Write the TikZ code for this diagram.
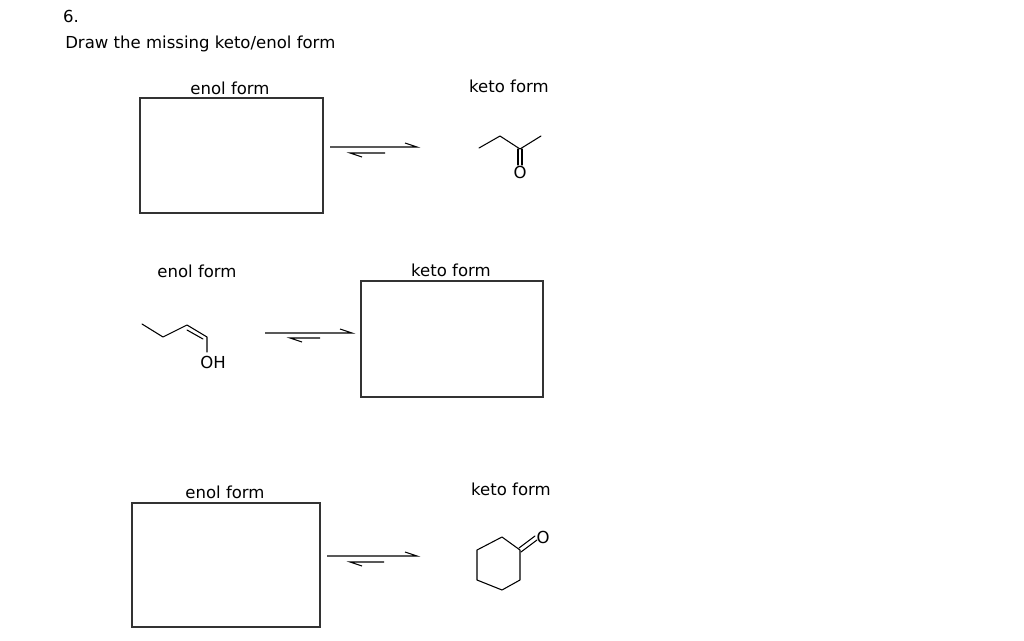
\documentclass[tikz,border=0pt]{standalone}
\usepackage{fontspec}
\setmainfont{DejaVu Sans}
\begin{document}
\begin{tikzpicture}[x=0.75pt,y=-0.75pt,
  lbl/.style={font=\fontsize{12.4}{14}\selectfont,inner sep=0pt},
  ansbox/.style={draw=black!80,line width=1pt},
  bond/.style={line width=0.8pt,line cap=round,line join=round},
  eqline/.style={line width=0.8pt}]
\useasboundingbox (0,0) rectangle (1024,640);
\node[lbl] (num) at (71,16) {6.};
\node[lbl,anchor=west] (title) at (65,44) {Draw the missing keto/enol form};
% row 1
\node[lbl] (e1) at (230,88) {enol form};
\node[lbl] (k1) at (509,86) {keto form};
\draw[ansbox] (140,98) rectangle (323,213);
\draw[eqline] (330,147) -- (417,147) -- (405,143);
\draw[eqline] (385,153) -- (350,153) -- (362,157);
\draw[bond] (479,148) -- (500,136) -- (520,149) -- (541,136);
\draw[bond] (518,149) -- (518,165) (522,149) -- (522,165);
\node[lbl] (o1) at (520,172) {O};
% row 2
\node[lbl] (e2) at (197,271) {enol form};
\node[lbl] (k2) at (451,270) {keto form};
\draw[ansbox] (361,281) rectangle (543,397);
\draw[eqline] (265,333) -- (352,333) -- (340,329);
\draw[eqline] (320,338) -- (290,338) -- (302,342);
\draw[bond] (142,324) -- (163,337) -- (187,325) -- (207,337) -- (207,352);
\draw[bond] (187,330) -- (203,339);
\node[lbl] (oh) at (213,362) {OH};
% row 3
\node[lbl] (e3) at (225,492) {enol form};
\node[lbl] (k3) at (511,489) {keto form};
\draw[ansbox] (132,503) rectangle (320,627);
\draw[eqline] (327,556) -- (417,556) -- (405,552);
\draw[eqline] (384,562) -- (350,562) -- (362,566);
\draw[bond] (502,537) -- (520,550) -- (520,580) -- (502,590) -- (477,580) -- (477,550) -- cycle;
\draw[bond] (519,548) -- (535,536) (521,552) -- (537,540);
\node[lbl] (o3) at (543,537) {O};
\end{tikzpicture}
\end{document}
